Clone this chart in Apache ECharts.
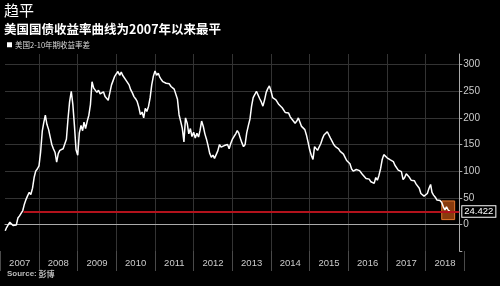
<!DOCTYPE html>
<html>
<head>
<meta charset="utf-8">
<script src="https://cdn.jsdelivr.net/npm/echarts@6/dist/echarts.min.js"></script>
<style>
  html, body { margin: 0; padding: 0; background: #000; }
  #chart { width: 500px; height: 286px; }
</style>
</head>
<body>
<div id="chart"></div>
<script>
// 美国2-10年期收益率差 (bp), half-month readings: 1st and 16th of each month
const spread2007 = [null, null, null, -12, -6, -1, 4, 5, -2, -3, -1, 12, 16, 18, 26, 38, 47, 54, 60, 56, 68, 88, 100, 104];
const spread2008 = [110, 135, 175, 192, 205, 188, 178, 164, 150, 142, 135, 117, 133, 139, 136, 142, 139, 160, 198, 230, 250, 225, 185, 140];
const spread2009 = [130, 172, 186, 176, 192, 180, 194, 205, 225, 268, 256, 258, 248, 252, 245, 244, 249, 240, 243, 233, 248, 262, 270, 278];
const spread2010 = [283, 287, 280, 286, 280, 277, 271, 274, 262, 253, 247, 240, 236, 231, 220, 206, 211, 200, 218, 212, 222, 238, 262, 278];
const spread2011 = [288, 280, 284, 276, 272, 268, 270, 265, 262, 264, 259, 260, 254, 255, 235, 206, 193, 180, 155, 200, 190, 170, 180, 165];
const spread2012 = [173, 162, 171, 164, 176, 194, 184, 170, 160, 148, 133, 126, 130, 124, 126, 138, 150, 145, 142, 148, 148, 150, 142, 152];
const spread2013 = [160, 165, 170, 176, 172, 162, 153, 146, 150, 172, 186, 198, 222, 238, 244, 250, 251, 236, 230, 222, 234, 248, 255, 260];
const spread2014 = [250, 238, 239, 234, 231, 225, 222, 219, 216, 210, 208, 209, 202, 198, 195, 190, 194, 200, 192, 184, 185, 178, 168, 155];
const spread2015 = [140, 130, 122, 146, 147, 139, 137, 152, 161, 168, 171, 174, 173, 162, 156, 150, 146, 143, 142, 137, 139, 132, 126, 120];
const spread2016 = [118, 114, 104, 100, 102, 103, 104, 101, 97, 93, 95, 86, 83, 85, 80, 83, 77, 88, 83, 92, 105, 122, 131, 132];
const spread2017 = [125, 127, 121, 124, 118, 111, 108, 102, 105, 99, 84, 88, 95, 93, 88, 83, 86, 82, 76, 76, 68, 58, 55, 53];
const spread2018 = [52, 58, 68, 75, 60, 55, 51, 46, 49, 45, 41, 33, 27, 33, 27, 24.422];

const years = ['2007', '2008', '2009', '2010', '2011', '2012', '2013', '2014', '2015', '2016', '2017', '2018'];
const yearly = [spread2007, spread2008, spread2009, spread2010, spread2011, spread2012,
  spread2013, spread2014, spread2015, spread2016, spread2017, spread2018];
const yTicks = [0, 50, 100, 150, 200, 250, 300];

const lastValue = 24.422;
const flatSince = '2007-08-08';
const boxFrom = ['2018-06-01', 44];
const boxTo = ['2018-10-01', 9];

// build [date, value] pairs
let seriesData = [];
yearly.forEach(function (arr, i) {
  arr.forEach(function (v, k) {
    if (v === null) return;
    let m = Math.floor(k / 2) + 1;
    let d = k % 2 ? '16' : '01';
    seriesData.push([years[i] + '-' + (m < 10 ? '0' + m : m) + '-' + d, v]);
  });
});

let chart = echarts.init(document.getElementById('chart'));
let font = '"Liberation Sans", "Noto Sans CJK SC", sans-serif';
let cjk = '"Noto Sans CJK SC", sans-serif';
const DAY = 24 * 3600 * 1000;

let option = {
  backgroundColor: '#000',
  animation: false,
  title: [
    {
      text: '趋平',
      left: 4, top: 3, padding: 0,
      textStyle: { color: '#fff', fontSize: 15, fontWeight: 'normal', fontFamily: cjk }
    },
    {
      text: '美国国债收益率曲线为2007年以来最平',
      left: 4, top: 23, padding: 0,
      textStyle: { color: '#fff', fontSize: 12.5, fontWeight: 'bold', fontFamily: cjk }
    },
    {
      text: '{b|Source:} 彭博',
      left: 7, top: 270, padding: 0,
      textStyle: {
        color: '#bbb', fontSize: 8, fontFamily: cjk,
        rich: { b: { color: '#bbb', fontSize: 8, fontWeight: 'bold', fontFamily: font } }
      }
    }
  ],
  legend: {
    data: ['美国2-10年期收益率差'],
    left: 7, top: 41, padding: 0,
    icon: 'rect', itemWidth: 5, itemHeight: 5, itemGap: 3,
    textStyle: { color: '#ddd', fontSize: 7.5, fontFamily: cjk, padding: [0, 0, 0, -2] }
  },
  grid: [
    { left: 5, right: 40.7, top: 54, bottom: 35 },
    { left: 0.33, right: 35.7, top: 54, bottom: 35 }
  ],
  xAxis: [
    {
      type: 'time',
      gridIndex: 0,
      min: '2007-02-14',
      max: '2018-11-14',
      minInterval: 360 * DAY,
      maxInterval: 370 * DAY,
      axisLabel: { show: false },
      axisLine: { lineStyle: { color: '#aaa', width: 1 } },
      axisTick: { show: false },
      splitLine: { show: true, showMinLine: false, showMaxLine: false, lineStyle: { color: '#333', width: 1 } }
    },
    {
      type: 'category',
      gridIndex: 1,
      data: years,
      boundaryGap: true,
      axisLine: { show: false },
      axisTick: { show: true, length: 20, interval: 0, lineStyle: { color: '#4a4a4a' } },
      splitLine: { show: false },
      axisLabel: { color: '#ccc', fontSize: 9.5, fontFamily: font, margin: 8, interval: 0 }
    }
  ],
  yAxis: [
    {
      type: 'value',
      gridIndex: 0,
      position: 'right',
      min: -50,
      max: 320,
      interval: 50,
      axisLine: { show: true, lineStyle: { color: '#aaa' } },
      axisTick: { show: true, length: 3, lineStyle: { color: '#aaa' } },
      axisLabel: {
        color: '#ccc', fontSize: 10, fontFamily: font, margin: 4,
        showMaxLabel: false,
        formatter: function (v) { return yTicks.indexOf(v) >= 0 ? String(v) : ''; }
      },
      splitLine: { show: true, showMinLine: false, showMaxLine: false, lineStyle: { color: '#333', width: 1 } }
    },
    { type: 'value', gridIndex: 1, show: false, min: 0, max: 1 }
  ],
  series: [
    {
      name: '美国2-10年期收益率差',
      type: 'line',
      xAxisIndex: 0,
      yAxisIndex: 0,
      data: seriesData,
      showSymbol: false,
      symbol: 'none',
      color: '#fff',
      lineStyle: { color: '#fff', width: 1.5 },
      z: 3,
      markLine: {
        silent: true,
        symbol: 'none',
        lineStyle: { color: '#b3121c', width: 2, type: 'solid' },
        label: {
          show: true,
          position: 'end',
          distance: 3,
          formatter: String(lastValue),
          color: '#fff',
          fontSize: 9.5,
          fontFamily: font,
          backgroundColor: '#000',
          borderColor: '#fff',
          borderWidth: 1,
          padding: [1, 2, 0, 2]
        },
        data: [[
          { coord: [flatSince, lastValue] },
          { coord: ['2018-11-14', lastValue] }
        ]]
      }
    },
    {
      name: 'box',
      type: 'line',
      xAxisIndex: 0,
      yAxisIndex: 0,
      data: [],
      z: 5,
      markArea: {
        silent: true,
        itemStyle: { color: 'rgba(210, 90, 20, 0.65)', borderColor: '#e2762e', borderWidth: 1 },
        data: [[
          { coord: boxFrom },
          { coord: boxTo }
        ]]
      }
    }
  ]
};
chart.setOption(option);
</script>
</body>
</html>
